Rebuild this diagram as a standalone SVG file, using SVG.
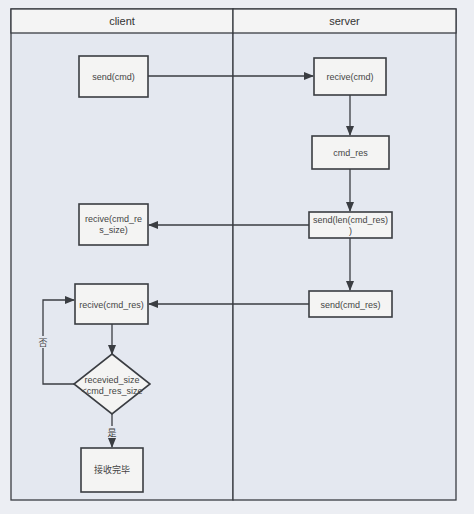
<svg xmlns="http://www.w3.org/2000/svg" width="474" height="514" viewBox="0 0 474 514">
<style>
.lane{fill:#e4e8f0;stroke:#3a3d42;stroke-width:1.3}
.hdr{fill:#f4f4f4;stroke:#3a3d42;stroke-width:1.3}
.node{fill:#f4f4f3;stroke:#3a3d42;stroke-width:1.6}
.t{font-family:"Liberation Sans","Noto Sans CJK SC",sans-serif;font-size:9px;fill:#444;text-anchor:middle}
.h{font-family:"Liberation Sans","Noto Sans CJK SC",sans-serif;font-size:11px;fill:#333;text-anchor:middle}
.c{fill:none;stroke:#3a3d42;stroke-width:1.3}
</style>
<defs>
<marker id="a" markerWidth="10" markerHeight="8" refX="9" refY="4" orient="auto" markerUnits="userSpaceOnUse">
<path d="M0,0 L10,4 L0,8 Z" fill="#3a3d42"/>
</marker>
</defs>
<rect width="474" height="514" fill="#eceef3"/>
<g id="pool">
<rect class="lane" x="11" y="9" width="222" height="491"/>
<rect class="lane" x="233" y="9" width="223" height="491"/>
<rect class="hdr" x="11" y="9" width="222" height="24"/>
<rect class="hdr" x="233" y="9" width="223" height="24"/>
<text class="h" x="122" y="25">client</text>
<text class="h" x="344.5" y="25">server</text>
</g>
<g id="connectors">
<path class="c" d="M148,76 H313" marker-end="url(#a)"/>
<path class="c" d="M350,95 V135" marker-end="url(#a)"/>
<path class="c" d="M350,169 V211" marker-end="url(#a)"/>
<path class="c" d="M309,225 H149" marker-end="url(#a)"/>
<path class="c" d="M350,238 V290" marker-end="url(#a)"/>
<path class="c" d="M309,304 H149" marker-end="url(#a)"/>
<path class="c" d="M112,324 V354" marker-end="url(#a)"/>
<path class="c" d="M74,384 H43 V300 H74" marker-end="url(#a)"/>
<path class="c" d="M112,414 V447" marker-end="url(#a)"/>
<rect x="37" y="336" width="12" height="12" fill="#e4e8f0"/>
<text class="t" x="43" y="346">否</text>
<rect x="106" y="426" width="12" height="12" fill="#e4e8f0"/>
<text class="t" x="112" y="436">是</text>
</g>
<g id="send_cmd">
<rect class="node" x="79" y="56" width="69" height="41"/>
<text class="t" x="113.5" y="80">send(cmd)</text>
</g>
<g id="recive_cmd">
<rect class="node" x="314" y="58" width="72" height="37"/>
<text class="t" x="350" y="80">recive(cmd)</text>
</g>
<g id="cmd_res">
<rect class="node" x="312" y="136" width="77" height="33"/>
<text class="t" x="350.5" y="156">cmd_res</text>
</g>
<g id="send_len">
<rect class="node" x="309" y="212" width="83" height="26"/>
<text class="t" x="350.5" y="223">send(len(cmd_res)</text>
<text class="t" x="350.5" y="234">)</text>
</g>
<g id="recive_size">
<rect class="node" x="79" y="204" width="69" height="41"/>
<text class="t" x="113.5" y="222">recive(cmd_re</text>
<text class="t" x="113.5" y="233">s_size)</text>
</g>
<g id="recive_res">
<rect class="node" x="75" y="284" width="73" height="40"/>
<text class="t" x="111.5" y="308">recive(cmd_res)</text>
</g>
<g id="send_res">
<rect class="node" x="309" y="291" width="83" height="26"/>
<text class="t" x="350.5" y="308">send(cmd_res)</text>
</g>
<g id="decision">
<path class="node" d="M112,354 L150,384 L112,414 L74,384 Z"/>
<text class="t" x="112" y="383">recevied_size</text>
<text class="t" x="112" y="394">&lt;cmd_res_size</text>
</g>
<g id="done">
<rect class="node" x="81" y="448" width="62" height="44"/>
<text class="t" x="112" y="473">接收完毕</text>
</g>
</svg>
